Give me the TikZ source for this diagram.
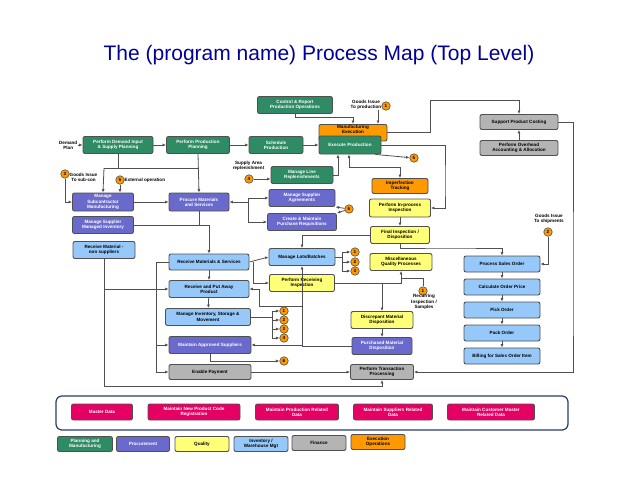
\documentclass[tikz,border=0pt]{standalone}
\usepackage{fontspec}
\setmainfont{Liberation Sans}
\usetikzlibrary{arrows.meta,calc}
\definecolor{cgrn}{RGB}{46,139,99}
\definecolor{cpur}{RGB}{106,106,204}
\definecolor{cblu}{RGB}{150,200,250}
\definecolor{cyel}{RGB}{255,255,120}
\definecolor{cgry}{RGB}{180,180,180}
\definecolor{cora}{RGB}{255,153,0}
\definecolor{cpnk}{RGB}{230,0,100}
\definecolor{cln}{RGB}{80,80,80}
\definecolor{cnavy}{RGB}{40,60,110}
\begin{document}
\begin{tikzpicture}[x=1pt,y=-1pt,
 box/.style={draw=cln,line width=0.9pt,rounded corners=2pt,minimum height=17pt,inner sep=1pt,align=center,font=\fontsize{4.6}{5.2}\selectfont\bfseries},
 G/.style={box,fill=cgrn,text=white},
 P/.style={box,fill=cpur,text=white},
 B/.style={box,fill=cblu},
 Y/.style={box,fill=cyel},
 R/.style={box,fill=cgry},
 O/.style={box,fill=cora},
 K/.style={box,fill=cpnk,text=white},
 bd/.style={circle,draw=cln,fill=cora,line width=0.6pt,inner sep=0pt,minimum size=8.5pt,font=\fontsize{4.6}{5}\selectfont\bfseries},
 lab/.style={font=\fontsize{4.6}{5.2}\selectfont\bfseries,align=center,inner sep=0.5pt},
 ar/.style={draw=cln,line width=0.8pt,-{Latex[length=3.5pt,width=3pt]}},
 ln/.style={draw=cln,line width=0.8pt}]
\useasboundingbox (0,0) rectangle (638,493);
\node[font=\fontsize{21}{24}\selectfont,text=blue!60!black] (title) at (319,55) {The (program name) Process Map (Top Level)};
% execution header
\node[O,minimum width=68pt,minimum height=16pt,anchor=north,text depth=6pt] (mfg) at (353,124) {Manufacturing\\Execution};
% green
\node[G,minimum width=75pt] (ctrl) at (295,105) {Control \& Report\\Production Operations};
\node[G,minimum width=70pt] (dem) at (118,145) {Perform  Demand Input\\\& Supply Planning};
\node[G,minimum width=63pt] (pp) at (198,145) {Perform  Production\\Planning};
\node[G,minimum width=54pt] (sch) at (276,145) {Schedule\\Production};
\node[G,minimum width=62pt,minimum height=18pt] (exe) at (350,145) {Execute Production};
\node[G,minimum width=62pt] (line) at (302,175) {Manage Line\\Replenishments};
% purple
\node[P,minimum width=61pt,minimum height=18pt] (sub) at (103,202) {Manage\\Subcontractor\\Manufacturing};
\node[P,minimum width=61pt] (msmi) at (103,225) {Manage Supplier\\Managed Inventory};
\node[P,minimum width=60pt,minimum height=18pt] (proc) at (199,202) {Procure Materials\\and Services};
\node[P,minimum width=66pt] (sag) at (302,198) {Manage Supplier\\Agreements};
\node[P,minimum width=69pt] (preq) at (302,222) {Create \& Maintain\\Purchase Requisitions};
% inventory
\node[B,minimum width=62pt] (rnon) at (104,250) {Receive Material -\\non suppliers};
\node[B,minimum width=80pt,minimum height=16pt] (rms) at (209,262) {Receive Materials \& Services};
\node[B,minimum width=80pt] (rpa) at (209,289) {Receive and Put Away\\Product};
\node[B,minimum width=85pt] (mis) at (208,317) {Manage Inventory, Storage \&\\Movement};
\node[P,minimum width=82pt] (mas) at (210,345) {Maintain  Approved Suppliers};
\node[R,minimum width=82pt,minimum height=15pt] (pay) at (210,372) {Enable Payment};
\node[B,minimum width=66pt] (lots) at (302,257) {Manage Lots/Batches};
\node[Y,minimum width=65pt] (rins) at (302,283) {Perform Receiving\\Inspection};
% right
\node[O,minimum width=56pt,minimum height=15pt] (imp) at (400,186) {Imperfection\\Tracking};
\node[Y,minimum width=61pt,minimum height=18pt] (inp) at (400,208) {Perform In-process\\Inspection};
\node[Y,minimum width=59pt] (fin) at (400,235) {Final Inspection /\\Disposition};
\node[Y,minimum width=62pt] (misc) at (401,262) {Miscellaneous\\Quality Processes};
\node[Y,minimum width=62pt] (dis) at (382,320) {Discrepant Material\\Disposition};
\node[P,minimum width=60pt] (pmd) at (382,346) {Purchased Material\\Disposition};
\node[R,minimum width=63pt,minimum height=15pt] (ptp) at (382,372) {Perform Transaction\\Processing};
\node[R,minimum width=78pt,minimum height=15pt] (spc) at (519,122) {Support Product Costing};
\node[R,minimum width=78pt,minimum height=15pt] (ovh) at (519,148) {Perform Overhead\\Accounting \& Allocation};
\node[B,minimum width=76pt,minimum height=16pt] (pso) at (502,264) {Process Sales Order};
\node[B,minimum width=76pt,minimum height=16pt] (cop) at (502,287) {Calculate Order Price};
\node[B,minimum width=76pt,minimum height=16pt] (pick) at (502,310) {Pick Order};
\node[B,minimum width=76pt,minimum height=16pt] (pack) at (502,333) {Pack  Order};
\node[B,minimum width=76pt,minimum height=16pt] (bill) at (502,356) {Billing for Sales Order Item};
% master data
\node[draw=cnavy,line width=1.2pt,rounded corners=6pt,minimum width=512pt,minimum height=34pt] (md) at (312,413) {};
\node[K,minimum width=61pt,minimum height=16pt] (k1) at (102,412) {Master Data};
\node[K,minimum width=92pt,minimum height=16pt] (k2) at (194,412) {Maintain New Product Code\\Registration};
\node[K,minimum width=83pt,minimum height=16pt] (k3) at (297,412) {Maintain Production Related\\Data};
\node[K,minimum width=79pt,minimum height=16pt] (k4) at (393,412) {Maintain Suppliers Related\\Data};
\node[K,minimum width=87pt,minimum height=16pt] (k5) at (491,412) {Maintain Customer Master\\Related Data};
% legend
\node[G,minimum width=55pt,minimum height=15pt] (l1) at (85,444) {Planning and\\Manufacturing};
\node[P,minimum width=53pt,minimum height=15pt] (l2) at (143,444) {Procurement};
\node[Y,minimum width=54pt,minimum height=15pt] (l3) at (202,444) {Quality};
\node[B,minimum width=54pt,minimum height=15pt] (l4) at (261,444) {Inventory /\\Warehouse Mgt};
\node[R,minimum width=54pt,minimum height=15pt] (l5) at (319,443) {Finance};
\node[O,minimum width=54pt,minimum height=15pt] (l6) at (378,442) {Execution\\Operations};
% badges and labels
\node[bd] (b1a) at (386,106) {1};
\node[lab,anchor=east] (gip) at (382,105) {Goods Issue\\To production};
\node[bd] (b5a) at (414,158) {5};
\node[bd] (b3) at (65,174) {3};
\node[lab,anchor=west] (gis) at (69,177) {Goods Issue\\To sub-con};
\node[bd] (b5b) at (120,180) {5};
\node[lab,anchor=west] (ext) at (124,180) {External operation};
\node[bd] (b4) at (249,179) {4};
\node[lab,anchor=east] (sar) at (265,166) {Supply Area\\replenishment};
\node[bd] (b6a) at (349,209) {6};
\node[lab] (gish) at (549,219) {Goods Issue\\To shipments};
\node[bd] (b2) at (548,232) {2};
\node[bd] (lb1) at (355,252) {1};
\node[bd] (lb2) at (355,262) {2};
\node[bd] (lb3) at (355,271) {3};
\node[bd] (mb1) at (284,311) {1};
\node[bd] (mb2) at (284,320) {2};
\node[bd] (mb3) at (284,329) {3};
\node[bd] (mb4) at (284,338) {4};
\node[bd] (ab6) at (284,361) {6};
\node[bd] (qb1) at (423,291) {1};
\node[lab] (rec) at (424,302) {Recurring\\Inspection /\\Samples};
\node[lab,anchor=east] (dp) at (78,145) {Demand\\Plan};
% connectors - planning
\draw[ar] (dp) -- (dem);
\draw[ar] (dem) -- (pp);
\draw[ar] (pp) -- (sch);
\draw[ar] (sch) -- (exe);
\draw[ar] (ctrl.south) |- (353,117) -- (mfg.north);
\draw[ar] (gip.south east) ++(-4,0) coordinate (gq) -- (gq|-mfg.north);
\draw[ar] (line.east) -| ([xshift=-12pt]exe.south);
\draw[ar] (b4) -- ([yshift=-4pt]line.west);
\draw[ar] ([xshift=-6pt]exe.south east) -- (b5a);
\draw[ar,{Latex[length=3.5pt,width=3pt]}-{Latex[length=3.5pt,width=3pt]}] ([xshift=-1pt]exe.south) |- (400,167) -- (imp.north);
\draw[ar] (exe.east) -| (445,185) |- (inp.east);
\draw[ar] (mfg.east) -| (430,100) -| (spc.north);
\draw[ar] (ovh) -- (spc);
\draw[ar] (spc.east) -| (573,300) |- (ptp.east);
\draw[ar] (inp) -- (fin);
\draw[ar] (fin.west) -| (lots.north);
\draw[ar] (fin.south) |- (450,248) -| (pso.north);
\draw[ar] (b2) |- (pso.east);
\draw[ar] (pso) -- (cop);
\draw[ar] (cop) -- (pick);
\draw[ar] (pick) -- (pack);
\draw[ar] (pack) -- (bill);
% procurement
\draw[ln] (dem.south) -- (118,168);
\draw[ar] (104,168) -- (sub.north);
\draw[ln] (104,168) -- (pp.south|-104,168);
\draw[ar] (pp.south) -- (proc.north);
\draw[ar] (b5b) -- (sub.north-|b5b);
\draw[ar] (b3) |- (sub.west);
\draw[ar] (sub) -- (proc);
\draw[ar] (248,202) -- (proc.east);
\draw[ar] (248,202) |- (sag.west);
\draw[ar] (248,202) |- (preq.west);
\draw[ar] (b6a) -- (sag.south east);
\draw[ar] (b6a) -- (preq.north east);
\draw[ln] (proc.south) -- (199,225);
\draw[ar] (msmi.east) -| (rms.north);
% inventory
\draw[ar] (rnon.south) |- (382,386) -- (ptp.south);
\draw[ar] (104,289) -- (rpa.west);
\draw[ln] (rms.west) -| (156,372);
\draw[ar] (156,345) -- (mas.west);
\draw[ar] (156,372) -- (pay.west);
\draw[ar] (rms) -- (rpa);
\draw[ar] (rpa) -- (mis);
\draw[ar] (rms.east) -- (lots.west);
\draw[ar] (rms.east) ++(4,0) |- (rins.west);
\draw[ar] (302,345) -- (lots.south);
\draw[ar] (pmd.west) -| (302,345) -- (mas.east);
\draw[ar] (302,306) -| (259,289) -- (rpa.east);
\draw[ln] (lots.east) -- (342,257);
\draw[ar] (342,252) |- (lb1.west);
\draw[ar] (342,252) |- (lb2.west);
\draw[ar] (342,252) |- (lb3.west);
\draw[ln] (mis.east) -- (272,317);
\draw[ar] (272,311) |- (mb1.west);
\draw[ar] (272,311) |- (mb2.west);
\draw[ar] (272,311) |- (mb3.west);
\draw[ar] (272,311) |- (mb4.west);
\draw[ar] (mas.south) |- (ab6.west);
\draw[ar] (pay) -- (ptp);
% quality
\draw[ar] (rins.east) -| (misc.south);
\draw[ar] (382,283) -- (dis.north);
\draw[ln] (401,278) -| (qb1.north);
\draw[ar] (dis) -- (pmd);
\end{tikzpicture}
\end{document}
